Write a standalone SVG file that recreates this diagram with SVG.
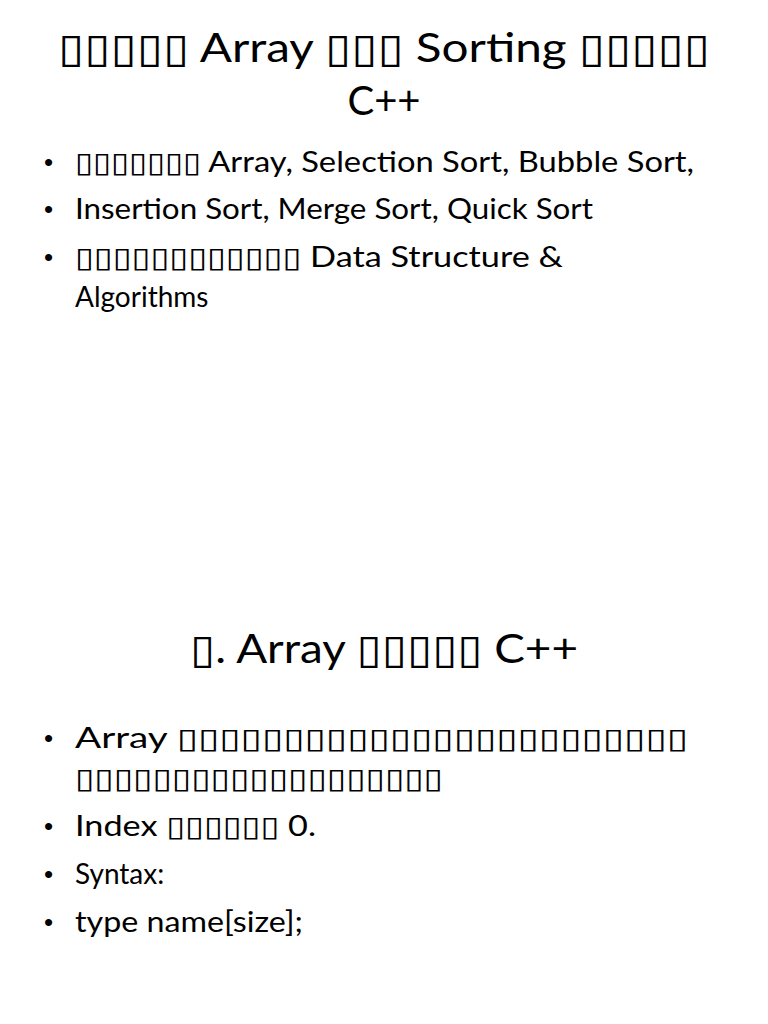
<svg xmlns="http://www.w3.org/2000/svg" width="768" height="1024" viewBox="0 0 768 1024">
<style>
text{font-family:Lato,"DejaVu Sans",sans-serif;fill:#000}
.t{font-size:40px;text-anchor:middle}
.b{font-size:28px}
.d{font-family:"Liberation Sans",sans-serif;font-size:26px}
</style>
<rect width="768" height="1024" fill="#fff"/>
<g id="slide1">
<text class="t" x="384" y="62" textLength="652" lengthAdjust="spacingAndGlyphs">▯▯▯▯▯ Array ▯▯▯ Sorting ▯▯▯▯▯</text>
<text class="t" x="384" y="115">C++</text>
<g class="b">
<text class="d" x="44" y="171">•</text><text x="75" y="172" textLength="619" lengthAdjust="spacingAndGlyphs">▯▯▯▯▯▯▯ Array, Selection Sort, Bubble Sort,</text>
<text class="d" x="44" y="218">•</text><text x="75" y="219" textLength="518" lengthAdjust="spacingAndGlyphs">Insertion Sort, Merge Sort, Quick Sort</text>
<text class="d" x="44" y="266">•</text><text x="75" y="267" textLength="488" lengthAdjust="spacingAndGlyphs">▯▯▯▯▯▯▯▯▯▯▯▯ Data Structure &amp;</text>
<text x="75" y="307">Algorithms</text>
</g>
</g>
<g id="slide2">
<text class="t" x="384" y="663" textLength="388" lengthAdjust="spacingAndGlyphs">▯. Array ▯▯▯▯▯ C++</text>
<g class="b">
<text class="d" x="44" y="747">•</text><text x="75" y="748" textLength="613" lengthAdjust="spacingAndGlyphs">Array ▯▯▯▯▯▯▯▯▯▯▯▯▯▯▯▯▯▯▯▯▯▯▯▯</text>
<text x="75" y="788" textLength="368" lengthAdjust="spacingAndGlyphs">▯▯▯▯▯▯▯▯▯▯▯▯▯▯▯▯▯▯▯</text>
<text class="d" x="44" y="835">•</text><text x="75" y="836" textLength="241" lengthAdjust="spacingAndGlyphs">Index ▯▯▯▯▯▯ 0.</text>
<text class="d" x="44" y="883">•</text><text x="75" y="884">Syntax:</text>
<text class="d" x="44" y="931">•</text><text x="75" y="932" textLength="228" lengthAdjust="spacingAndGlyphs">type name[size];</text>
</g>
</g>
</svg>
